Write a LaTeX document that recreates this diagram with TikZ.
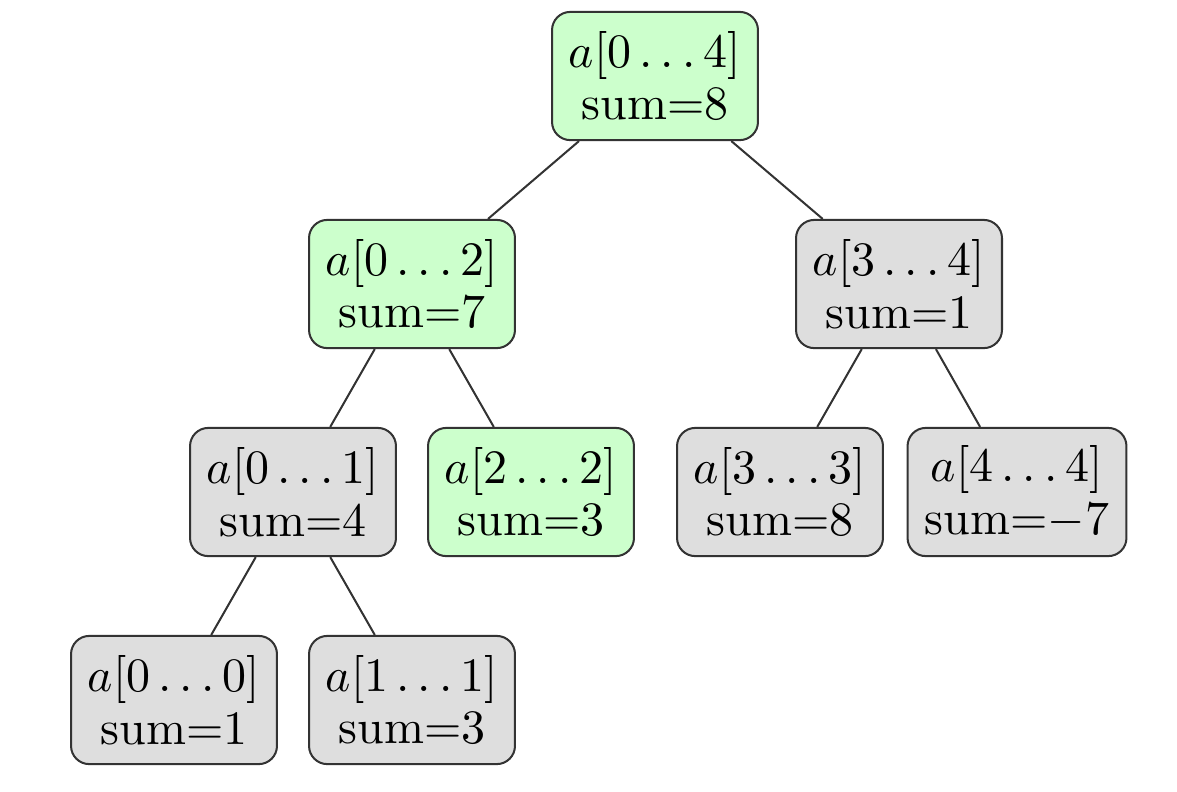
\documentclass[tikz,border=0pt]{standalone}
\usepackage{fontspec}
\begin{document}
\begin{tikzpicture}[x=0.2083pt,y=-0.2083pt,
  box/.style={draw=black!80, line width=0.42pt, rounded corners=3.8pt, align=center,
    minimum width=42.9pt, minimum height=26.7pt, inner xsep=1pt, inner ysep=1pt,
    font=\fontsize{10}{11}\selectfont},
  hi/.style={box, fill=green!20},
  lo/.style={box, fill=black!13},
  edge/.style={draw=black!80, line width=0.42pt}]
\useasboundingbox (0,0) rectangle (1177,791);
\node[hi] (r)   at (655,76)  {$a[0\ldots4]$\\sum=8};
\node[hi] (l)   at (412,284) {$a[0\ldots2]$\\sum=7};
\node[lo] (rr)  at (899,284) {$a[3\ldots4]$\\sum=1};
\node[lo] (ll)  at (293,492) {$a[0\ldots1]$\\sum=4};
\node[hi] (lr)  at (531,492) {$a[2\ldots2]$\\sum=3};
\node[lo] (rl)  at (780,492) {$a[3\ldots3]$\\sum=8};
\node[lo, minimum width=45.6pt] (rrr) at (1017,492) {$a[4\ldots4]$\\sum=$-7$};
\node[lo] (lll) at (174,700) {$a[0\ldots0]$\\sum=1};
\node[lo] (llr) at (412,700) {$a[1\ldots1]$\\sum=3};
\draw[edge] (r) -- (l);
\draw[edge] (r) -- (rr);
\draw[edge] (l) -- (ll);
\draw[edge] (l) -- (lr);
\draw[edge] (rr) -- (rl);
\draw[edge] (rr) -- (rrr);
\draw[edge] (ll) -- (lll);
\draw[edge] (ll) -- (llr);
\end{tikzpicture}
\end{document}
